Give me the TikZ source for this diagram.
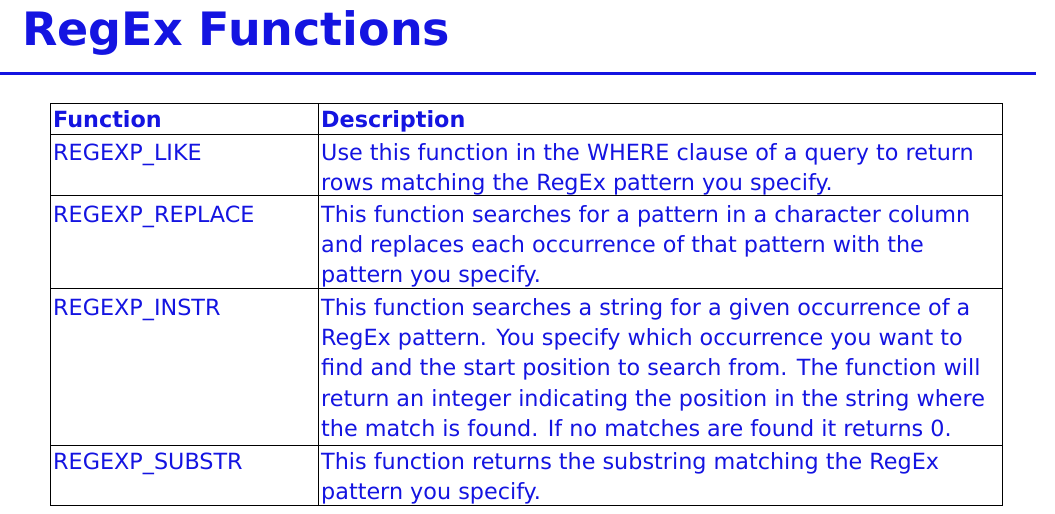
\documentclass[tikz,border=0pt]{standalone}
\usepackage{fontspec}
\setmainfont{DejaVu Sans}
\definecolor{slideblue}{RGB}{20,20,225}
\begin{document}
\begin{tikzpicture}[x=1pt,y=-1pt,
  txt/.style={anchor=base west,inner sep=0pt,text=slideblue,font=\fontsize{22.3}{24}\selectfont},
  hd/.style={txt,font=\fontsize{22.3}{24}\selectfont\bfseries},
  grid/.style={line width=0.9pt,black}]
\useasboundingbox (0,0) rectangle (1055,514);
\node[anchor=base west,inner sep=0pt,text=slideblue,font=\fontsize{46}{52}\selectfont\bfseries] (title) at (22,45) {RegEx Functions};
\draw[slideblue,line width=3pt] (0,73) -- (1036,73);
% table grid
\draw[grid] (50,103) rectangle (1002,505);
\draw[grid] (318,103) -- (318,505);
\foreach \y in {134,195,288,445} \draw[grid] (50,\y) -- (1002,\y);
% header
\node[hd] (h1) at (53,127) {Function};
\node[hd] (h2) at (321,127) {Description};
% rows
\node[txt] (f1) at (53,160) {REGEXP\_LIKE};
\node[txt] (d1a) at (321,160) {Use this function in the WHERE clause of a query to return};
\node[txt] (d1b) at (321,190) {rows matching the RegEx pattern you specify.};
\node[txt] (f2) at (53,222) {REGEXP\_REPLACE};
\node[txt] (d2a) at (321,222) {This function searches for a pattern in a character column};
\node[txt] (d2b) at (321,252) {and replaces each occurrence of that pattern with the};
\node[txt] (d2c) at (321,282) {pattern you specify.};
\node[txt] (f3) at (53,315) {REGEXP\_INSTR};
\node[txt] (d3a) at (321,315) {This function searches a string for a given occurrence of a};
\node[txt] (d3b) at (321,345) {RegEx pattern. You specify which occurrence you want to};
\node[txt] (d3c) at (321,375) {find and the start position to search from. The function will};
\node[txt] (d3d) at (321,406) {return an integer indicating the position in the string where};
\node[txt] (d3e) at (321,436) {the match is found. If no matches are found it returns 0.};
\node[txt] (f4) at (53,469) {REGEXP\_SUBSTR};
\node[txt] (d4a) at (321,469) {This function returns the substring matching the RegEx};
\node[txt] (d4b) at (321,499) {pattern you specify.};
\end{tikzpicture}
\end{document}
